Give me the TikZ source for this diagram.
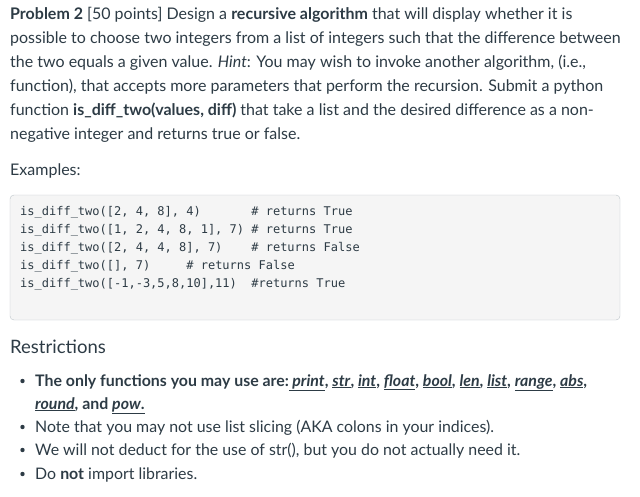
\documentclass[tikz,border=0pt]{standalone}
\usepackage{fontspec}
\setmainfont{Lato}
\setmonofont{DejaVu Sans Mono}
\definecolor{txt}{HTML}{2D3B45}
\definecolor{codebg}{HTML}{F5F5F5}
\definecolor{codebd}{HTML}{BCC3C8}
\begin{document}
\begin{tikzpicture}[x=1pt,y=-1pt,
  tl/.style={anchor=base west,inner sep=0pt,text=txt,font=\fontsize{16}{18}\selectfont},
  cl/.style={anchor=base west,inner sep=0pt,text=txt,font=\ttfamily\fontsize{12}{14}\selectfont},
  bl/.style={anchor=base west,inner sep=0pt,text=txt,font=\fontsize{15.9}{18}\selectfont}]
\useasboundingbox (0,0) rectangle (640,496);
\node[tl] (l1) at (10,19) {\textbf{Problem 2} [50 points] Design a \textbf{recursive algorithm} that will display whether it is};
\node[tl] (l2) at (10,43) {possible to choose two integers from a list of integers such that the difference between};
\node[tl] (l3) at (10,67) {the two equals a given value. \textit{Hint}: You may wish to invoke another algorithm, (i.e.,};
\node[tl] (l4) at (10,91) {function), that accepts more parameters that perform the recursion. Submit a python};
\node[tl] (l5) at (10,115) {function \textbf{is\_diff\_two(values, diff)} that take a list and the desired difference as a non-};
\node[tl] (l6) at (10,139) {negative integer and returns true or false.};
\node[tl] (ex) at (10,175) {Examples:};
\draw[codebd,fill=codebg,rounded corners=4pt] (10,195) rectangle (620,320);
\node[cl] (c1) at (20,215) {is\_diff\_two([2, 4, 8], 4)\ \ \ \ \ \ \ \# returns True};
\node[cl] (c2) at (20,233) {is\_diff\_two([1, 2, 4, 8, 1], 7) \# returns True};
\node[cl] (c3) at (20,251) {is\_diff\_two([2, 4, 4, 8], 7)\ \ \ \ \# returns False};
\node[cl] (c4) at (20,269) {is\_diff\_two([], 7)\ \ \ \ \ \# returns False};
\node[cl] (c5) at (20,287) {is\_diff\_two([-1,-3,5,8,10],11)\ \ \#returns True};
\node[anchor=base west,inner sep=0pt,text=txt,font=\fontsize{18.5}{20}\selectfont] (rs) at (10,353) {Restrictions};
\foreach \y/\n in {386/b1,432/b3,455/b4,479/b5}{
  \fill[txt] (22.5,\y-5) circle (2.2) coordinate (\n);
}
\node[bl] (r1) at (35,386) {\textbf{The only functions you may use are:\underline{\textit{ print}}, \underline{\textit{str}}, \underline{\textit{int}}, \underline{\textit{float}}, \underline{\textit{bool}}, \underline{\textit{len}}, \underline{\textit{list}}, \underline{\textit{range}}, \underline{\textit{abs}},}};
\node[bl] (r2) at (35,409) {\textbf{\underline{\textit{round}}, and \underline{\textit{pow}.}}};
\node[bl] (r3) at (35,432) {Note that you may not use list slicing (AKA colons in your indices).};
\node[bl] (r4) at (35,455) {We will not deduct for the use of str(), but you do not actually need it.};
\node[bl] (r5) at (35,479) {Do \textbf{not} import libraries.};
\end{tikzpicture}
\end{document}
